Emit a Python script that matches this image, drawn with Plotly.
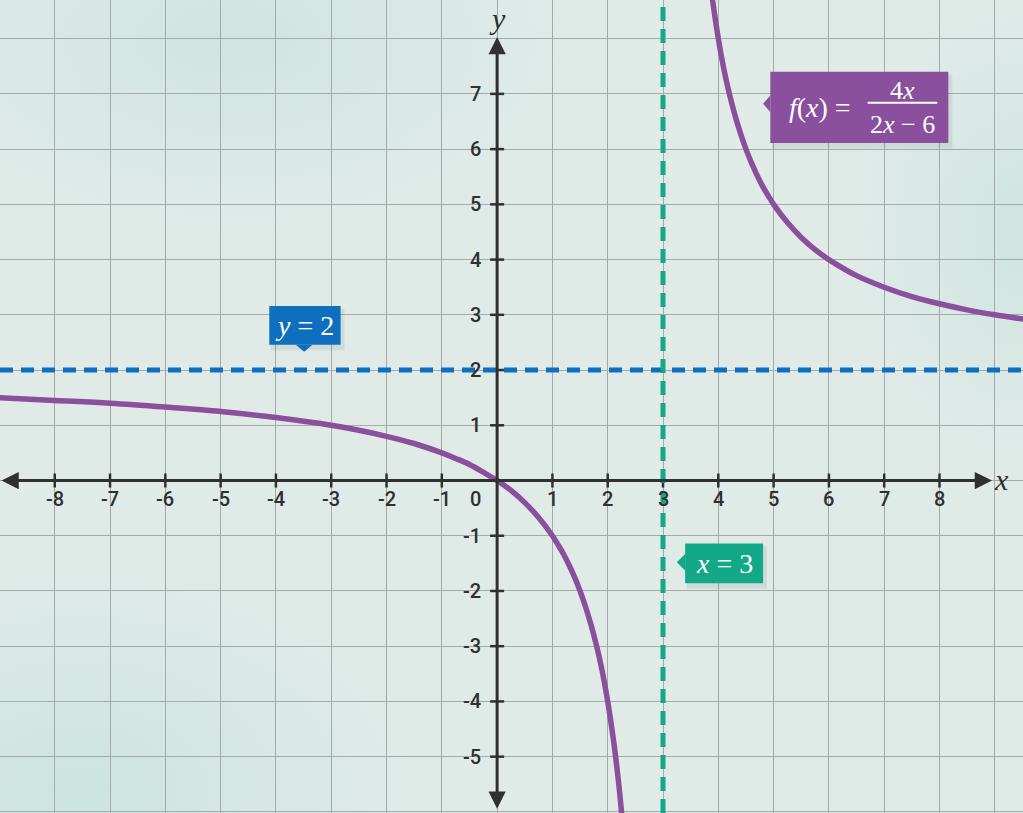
import base64
import plotly.graph_objects as go

# --- dane: f(x) = 4x / (2x - 6) ---
x_left = [-9.0, -8.0, -7.0, -6.0, -5.0, -4.0, -3.0, -2.5, -2.0, -1.5, -1.0, -0.75,
          -0.5, -0.25, 0.0, 0.25, 0.5, 0.75, 1.0, 1.1, 1.2, 1.3, 1.4, 1.5, 1.6,
          1.7, 1.8, 1.9, 2.0, 2.1, 2.2, 2.3]
y_left = [1.50, 1.45, 1.40, 1.33, 1.25, 1.14, 1.00, 0.91, 0.80, 0.67, 0.50, 0.40,
          0.29, 0.15, 0.00, -0.18, -0.40, -0.67, -1.00, -1.16, -1.33, -1.53, -1.75,
          -2.00, -2.29, -2.62, -3.00, -3.45, -4.00, -4.67, -5.50, -6.57]
x_right = [3.75, 3.8, 3.9, 4.0, 4.1, 4.2, 4.3, 4.4, 4.5, 4.6, 4.7, 4.8, 4.9, 5.0,
           5.25, 5.5, 5.75, 6.0, 6.5, 7.0, 7.5, 8.0, 8.5, 9.0, 9.6]
y_right = [10.00, 9.50, 8.67, 8.00, 7.45, 7.00, 6.62, 6.29, 6.00, 5.75, 5.53, 5.33,
           5.16, 5.00, 4.67, 4.40, 4.18, 4.00, 3.71, 3.50, 3.33, 3.20, 3.09, 3.00, 2.91]

asymptote_y = 2
asymptote_x = 3

x_ticks = [-8, -7, -6, -5, -4, -3, -2, -1, 1, 2, 3, 4, 5, 6, 7, 8]
y_ticks = [-5, -4, -3, -2, -1, 1, 2, 3, 4, 5, 6, 7]

# kolory
PURPLE = '#8a509e'
BLUE = '#0d6fbd'
GREEN = '#13a887'
AXIS = '#2f3030'
BG = '#e0ebe8'
GRID = '#a2abaa'

X_RANGE = [-8.99, 9.51]
Y_RANGE = [-6.02, 8.70]

# delikatne tło z plamami (svg jako data uri)
bg_svg = f'''<svg xmlns="http://www.w3.org/2000/svg" width="1023" height="813">
<defs>
<radialGradient id="a"><stop offset="0" stop-color="#cde4df" stop-opacity="0.9"/>
<stop offset="1" stop-color="#cde4df" stop-opacity="0"/></radialGradient>
<radialGradient id="b"><stop offset="0" stop-color="#c9e3de" stop-opacity="0.9"/>
<stop offset="1" stop-color="#c9e3de" stop-opacity="0"/></radialGradient>
</defs>
<rect width="1023" height="813" fill="{BG}"/>
<ellipse cx="230" cy="40" rx="330" ry="190" fill="url(#a)"/>
<ellipse cx="80" cy="790" rx="330" ry="220" fill="url(#b)"/>
<ellipse cx="1023" cy="230" rx="170" ry="230" fill="url(#a)"/>
</svg>'''
bg_uri = 'data:image/svg+xml;base64,' + base64.b64encode(bg_svg.encode()).decode()

fig = go.Figure()

# asymptoty
fig.add_shape(type='line', x0=X_RANGE[0], x1=X_RANGE[1], y0=asymptote_y, y1=asymptote_y,
              line=dict(color=BLUE, width=5, dash='13px,8px'), layer='above')
fig.add_shape(type='line', x0=asymptote_x, x1=asymptote_x, y0=Y_RANGE[0], y1=Y_RANGE[1],
              line=dict(color=GREEN, width=5, dash='14px,8px'), layer='above')

# osie ze strzałkami
arrow = dict(text='', showarrow=True, arrowside='end+start', arrowhead=2,
             startarrowhead=2, arrowsize=1.15, startarrowsize=1.15, arrowwidth=3,
             arrowcolor=AXIS, axref='x', ayref='y')
fig.add_annotation(x=8.95, y=0, ax=-8.99, ay=0, **arrow)
fig.add_annotation(x=0, y=8.03, ax=0, ay=-5.97, **arrow)

# znaczniki
fig.add_trace(go.Scatter(x=x_ticks, y=[0] * len(x_ticks), mode='markers',
                         marker=dict(symbol='line-ns', size=10,
                                     line=dict(color=AXIS, width=2.5)),
                         hoverinfo='skip', showlegend=False))
fig.add_trace(go.Scatter(x=[0] * len(y_ticks), y=y_ticks, mode='markers',
                         marker=dict(symbol='line-ew', size=10,
                                     line=dict(color=AXIS, width=2.5)),
                         hoverinfo='skip', showlegend=False))

# wykres funkcji
for xs, ys in [(x_left, y_left), (x_right, y_right)]:
    fig.add_trace(go.Scatter(x=xs, y=ys, mode='lines',
                             line=dict(color=PURPLE, width=5.5, shape='spline',
                                       smoothing=1.0, simplify=False),
                             hoverinfo='skip', showlegend=False))

# etykiety osi
tick_font = dict(family='Roboto, Arial, sans-serif', size=20, color=AXIS, weight=500)
for t in x_ticks:
    fig.add_annotation(x=t, y=-0.34, text=str(t), showarrow=False, font=tick_font)
for t in y_ticks:
    fig.add_annotation(x=-0.25, y=t, text=str(t), showarrow=False, font=tick_font,
                       xanchor='right')
fig.add_annotation(x=-0.25, y=-0.34, text='0', showarrow=False, font=tick_font,
                   xanchor='right')

math_font = dict(family='Liberation Serif, DejaVu Serif, serif', size=30, color=AXIS)
fig.add_annotation(x=9.13, y=0.02, text='<i>x</i>', showarrow=False, font=math_font)
fig.add_annotation(x=0, y=8.36, text='<i>y</i>', showarrow=False, font=math_font)


# dymki z opisami
def callout(x0, x1, y0, y1, tip, color):
    fig.add_shape(type='rect', x0=x0 + 0.03, x1=x1 + 0.07, y0=y0 - 0.10, y1=y1 - 0.05,
                  fillcolor='rgba(40,70,70,0.09)', line_width=0, layer='above')
    fig.add_shape(type='rect', x0=x0, x1=x1, y0=y0, y1=y1,
                  fillcolor=color, line_width=0, layer='above')
    tx, ty, side = tip
    if side == 'left':
        path = f'M {x0} {ty + 0.15} L {tx} {ty} L {x0} {ty - 0.15} Z'
    else:
        path = f'M {tx - 0.15} {y0} L {tx} {ty} L {tx + 0.15} {y0} Z'
    fig.add_shape(type='path', path=path, fillcolor=color, line_width=0, layer='above')


label_font = dict(family='Liberation Serif, DejaVu Serif, serif', size=28, color='white')
frac_font = dict(family='Liberation Serif, DejaVu Serif, serif', size=26, color='white')

callout(-4.12, -2.83, 2.46, 3.16, (-3.49, 2.33, 'down'), BLUE)
fig.add_annotation(x=-3.475, y=2.81, text='<i>y</i> = 2', showarrow=False, font=label_font)

callout(3.40, 4.81, -1.86, -1.14, (3.25, -1.48, 'left'), GREEN)
fig.add_annotation(x=4.105, y=-1.50, text='<i>x</i> = 3', showarrow=False, font=label_font)

callout(4.94, 8.16, 6.11, 7.40, (4.81, 6.82, 'left'), PURPLE)
fig.add_annotation(x=5.84, y=6.76, text='<i>f</i>(<i>x</i>) =', showarrow=False,
                   font=label_font)
fig.add_annotation(x=7.33, y=7.07, text='4<i>x</i>', showarrow=False, font=frac_font)
fig.add_annotation(x=7.33, y=6.45, text='2<i>x</i> − 6', showarrow=False, font=frac_font)
fig.add_shape(type='line', x0=6.70, x1=7.96, y0=6.84, y1=6.84,
              line=dict(color='white', width=2), layer='above')

fig.add_layout_image(source=bg_uri, xref='paper', yref='paper', x=0, y=1,
                     sizex=1, sizey=1, sizing='stretch', xanchor='left',
                     yanchor='top', layer='below')

fig.update_layout(
    width=1023, height=813,
    margin=dict(l=0, r=0, t=0, b=0),
    paper_bgcolor=BG, plot_bgcolor='rgba(0,0,0,0)',
    xaxis=dict(range=X_RANGE, dtick=1, tick0=0, showgrid=True, gridcolor=GRID,
               gridwidth=1, zeroline=False, showticklabels=False, showline=False),
    yaxis=dict(range=Y_RANGE, dtick=1, tick0=0, showgrid=True, gridcolor=GRID,
               gridwidth=1, zeroline=False, showticklabels=False, showline=False),
)

fig.write_html("out.html", config={'displayModeBar': False},
               post_script="document.body.style.margin='0';"
                           "document.body.style.overflow='hidden';")
